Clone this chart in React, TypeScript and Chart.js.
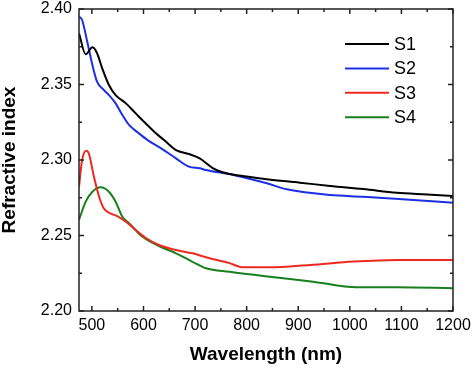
import React, { useEffect, useRef } from "react";
import { Chart, registerables } from "chart.js";

Chart.register(...registerables);

const seriesNames = ["S1", "S2", "S3", "S4"];
const seriesColors = ["#000000", "#1c2fe4", "#ee2a1e", "#17801c"];

const s1Wavelength = [475, 488, 501, 510, 520, 533, 546, 566, 585, 604, 624, 640, 663, 688, 709, 735, 761, 800, 839, 903, 962, 1026, 1091, 1150, 1200];
const s1Index = [2.3839, 2.37, 2.3746, 2.3707, 2.3607, 2.3497, 2.343, 2.3375, 2.3309, 2.3243, 2.3177, 2.3132, 2.3066, 2.304, 2.3011, 2.2945, 2.2912, 2.289, 2.2872, 2.285, 2.2828, 2.2808, 2.2783, 2.2772, 2.2762];

const s2Wavelength = [475, 481, 491, 501, 510, 523, 533, 546, 559, 572, 591, 608, 635, 663, 688, 709, 721, 774, 839, 878, 962, 1026, 1123, 1200];
const s2Index = [2.395, 2.3927, 2.3783, 2.3629, 2.3519, 2.3464, 2.343, 2.3375, 2.3298, 2.3232, 2.3177, 2.3132, 2.3075, 2.3011, 2.2956, 2.2945, 2.2934, 2.2901, 2.2846, 2.2806, 2.2768, 2.2757, 2.2735, 2.2717];

const s3Wavelength = [475, 481, 489, 494, 504, 514, 523, 533, 549, 566, 585, 604, 630, 663, 695, 721, 767, 793, 845, 923, 1007, 1091, 1200];
const s3Index = [2.2823, 2.3, 2.3062, 2.3044, 2.2889, 2.2757, 2.268, 2.2651, 2.2629, 2.2591, 2.2536, 2.2485, 2.2437, 2.2404, 2.2382, 2.2356, 2.2317, 2.2289, 2.2289, 2.2305, 2.2327, 2.2338, 2.2338];

const s4Wavelength = [475, 488, 501, 517, 533, 546, 559, 572, 598, 630, 663, 695, 721, 767, 845, 929, 1013, 1091, 1200];
const s4Index = [2.2603, 2.2724, 2.279, 2.2819, 2.279, 2.2724, 2.2624, 2.2581, 2.2492, 2.243, 2.2382, 2.2326, 2.2283, 2.226, 2.2227, 2.2194, 2.2157, 2.2157, 2.2151];

const xTickValues = [500, 600, 700, 800, 900, 1000, 1100, 1200];
const yTickValues = [2.2, 2.25, 2.3, 2.35, 2.4];
const xMin = 475;
const xMax = 1200;
const yMin = 2.2;
const yMax = 2.4;

const xTitle = "Wavelength (nm)";
const yTitle = "Refractive index";

const FONT = "'Liberation Sans', Arial, Helvetica, sans-serif";

const toPoints = (xs: number[], ys: number[]) => xs.map((x, i) => ({ x, y: ys[i] }));

const framePlugin = {
  id: "frameTicks",
  afterDatasetsDraw(chart: any) {
    const { ctx, chartArea } = chart;
    const xs = chart.scales.x;
    const ys = chart.scales.y;
    const { left, right, top, bottom } = chartArea;
    ctx.save();
    ctx.strokeStyle = "#222";
    ctx.lineWidth = 1.5;
    ctx.strokeRect(left, top, right - left, bottom - top);
    const major = 5;
    const minor = 3;
    ctx.beginPath();
    const xMajor = xTickValues;
    const xMinor: number[] = [];
    for (let i = 0; i < xMajor.length - 1; i++) xMinor.push((xMajor[i] + xMajor[i + 1]) / 2);
    xMajor.forEach((v) => {
      const p = xs.getPixelForValue(v);
      ctx.moveTo(p, bottom);
      ctx.lineTo(p, bottom - major);
      ctx.moveTo(p, top);
      ctx.lineTo(p, top + major);
    });
    xMinor.forEach((v) => {
      const p = xs.getPixelForValue(v);
      ctx.moveTo(p, bottom);
      ctx.lineTo(p, bottom - minor);
      ctx.moveTo(p, top);
      ctx.lineTo(p, top + minor);
    });
    const yMinor: number[] = [];
    for (let i = 0; i < yTickValues.length - 1; i++) yMinor.push((yTickValues[i] + yTickValues[i + 1]) / 2);
    yTickValues.forEach((v) => {
      const p = ys.getPixelForValue(v);
      ctx.moveTo(left, p);
      ctx.lineTo(left + major, p);
      ctx.moveTo(right, p);
      ctx.lineTo(right - major, p);
    });
    yMinor.forEach((v) => {
      const p = ys.getPixelForValue(v);
      ctx.moveTo(left, p);
      ctx.lineTo(left + minor, p);
      ctx.moveTo(right, p);
      ctx.lineTo(right - minor, p);
    });
    ctx.stroke();

    // legend
    const lx0 = right - 108;
    const lx1 = right - 64;
    const tx = right - 59;
    ctx.font = `18px ${FONT}`;
    ctx.textBaseline = "middle";
    ctx.textAlign = "left";
    chart.data.datasets.forEach((ds: any, i: number) => {
      const y = top + 35 + i * 24.4;
      ctx.strokeStyle = ds.borderColor;
      ctx.lineWidth = 2;
      ctx.beginPath();
      ctx.moveTo(lx0, y);
      ctx.lineTo(lx1, y);
      ctx.stroke();
      ctx.fillStyle = "#000";
      ctx.fillText(ds.label, tx, y + 1);
    });
    ctx.restore();
  },
};

export default function App() {
  const ref = useRef<HTMLCanvasElement | null>(null);
  useEffect(() => {
    document.body.style.margin = "0";
    const canvas = ref.current;
    if (!canvas) return;
    const seriesX = [s1Wavelength, s2Wavelength, s3Wavelength, s4Wavelength];
    const seriesY = [s1Index, s2Index, s3Index, s4Index];
    const chart = new Chart(canvas, {
      type: "line",
      data: {
        datasets: seriesNames.map((name, i) => ({
          label: name,
          data: toPoints(seriesX[i], seriesY[i]),
          borderColor: seriesColors[i],
          backgroundColor: seriesColors[i],
          borderWidth: 2,
          pointRadius: 0,
          fill: false,
          cubicInterpolationMode: "monotone" as const,
        })),
      },
      options: {
        animation: false,
        responsive: false,
        devicePixelRatio: 1,
        layout: { padding: { left: 0, top: 9, right: 21, bottom: 0 } },
        plugins: { legend: { display: false }, tooltip: { enabled: false } },
        scales: {
          x: {
            type: "linear",
            min: xMin,
            max: xMax,
            grid: { display: false, drawTicks: false },
            border: { display: false },
            ticks: {
              padding: 5,
              color: "#000",
              font: { family: FONT, size: 16 },
              maxRotation: 0,
              callback: (v: any) => String(v),
            },
            afterBuildTicks: (scale: any) => {
              scale.ticks = xTickValues.map((v) => ({ value: v }));
            },
            afterFit: (scale: any) => {
              scale.height = 57;
              scale.paddingLeft = 0;
              scale.paddingRight = 0;
            },
            title: {
              display: true,
              text: xTitle,
              color: "#000",
              font: { family: FONT, size: 19, weight: "bold" },
              padding: { top: 0, bottom: 2 },
            },
          },
          y: {
            type: "linear",
            min: yMin,
            max: yMax,
            grid: { display: false, drawTicks: false },
            border: { display: false },
            ticks: {
              padding: 7,
              color: "#000",
              font: { family: FONT, size: 16 },
              callback: (v: any) => Number(v).toFixed(2),
            },
            afterBuildTicks: (scale: any) => {
              scale.ticks = yTickValues.map((v) => ({ value: v }));
            },
            afterFit: (scale: any) => {
              scale.width = 79;
              scale.paddingTop = 0;
              scale.paddingBottom = 0;
            },
            title: {
              display: true,
              text: yTitle,
              color: "#000",
              font: { family: FONT, size: 19, weight: "bold", lineHeight: 1 },
              padding: { top: 0.5, bottom: 0 },
            },
          },
        },
      },
      plugins: [framePlugin],
    });
    return () => chart.destroy();
  }, []);
  return (
    <div style={{ width: 474, height: 368, background: "#fff" }}>
      <canvas ref={ref} width={474} height={368} style={{ display: "block" }} />
    </div>
  );
}
